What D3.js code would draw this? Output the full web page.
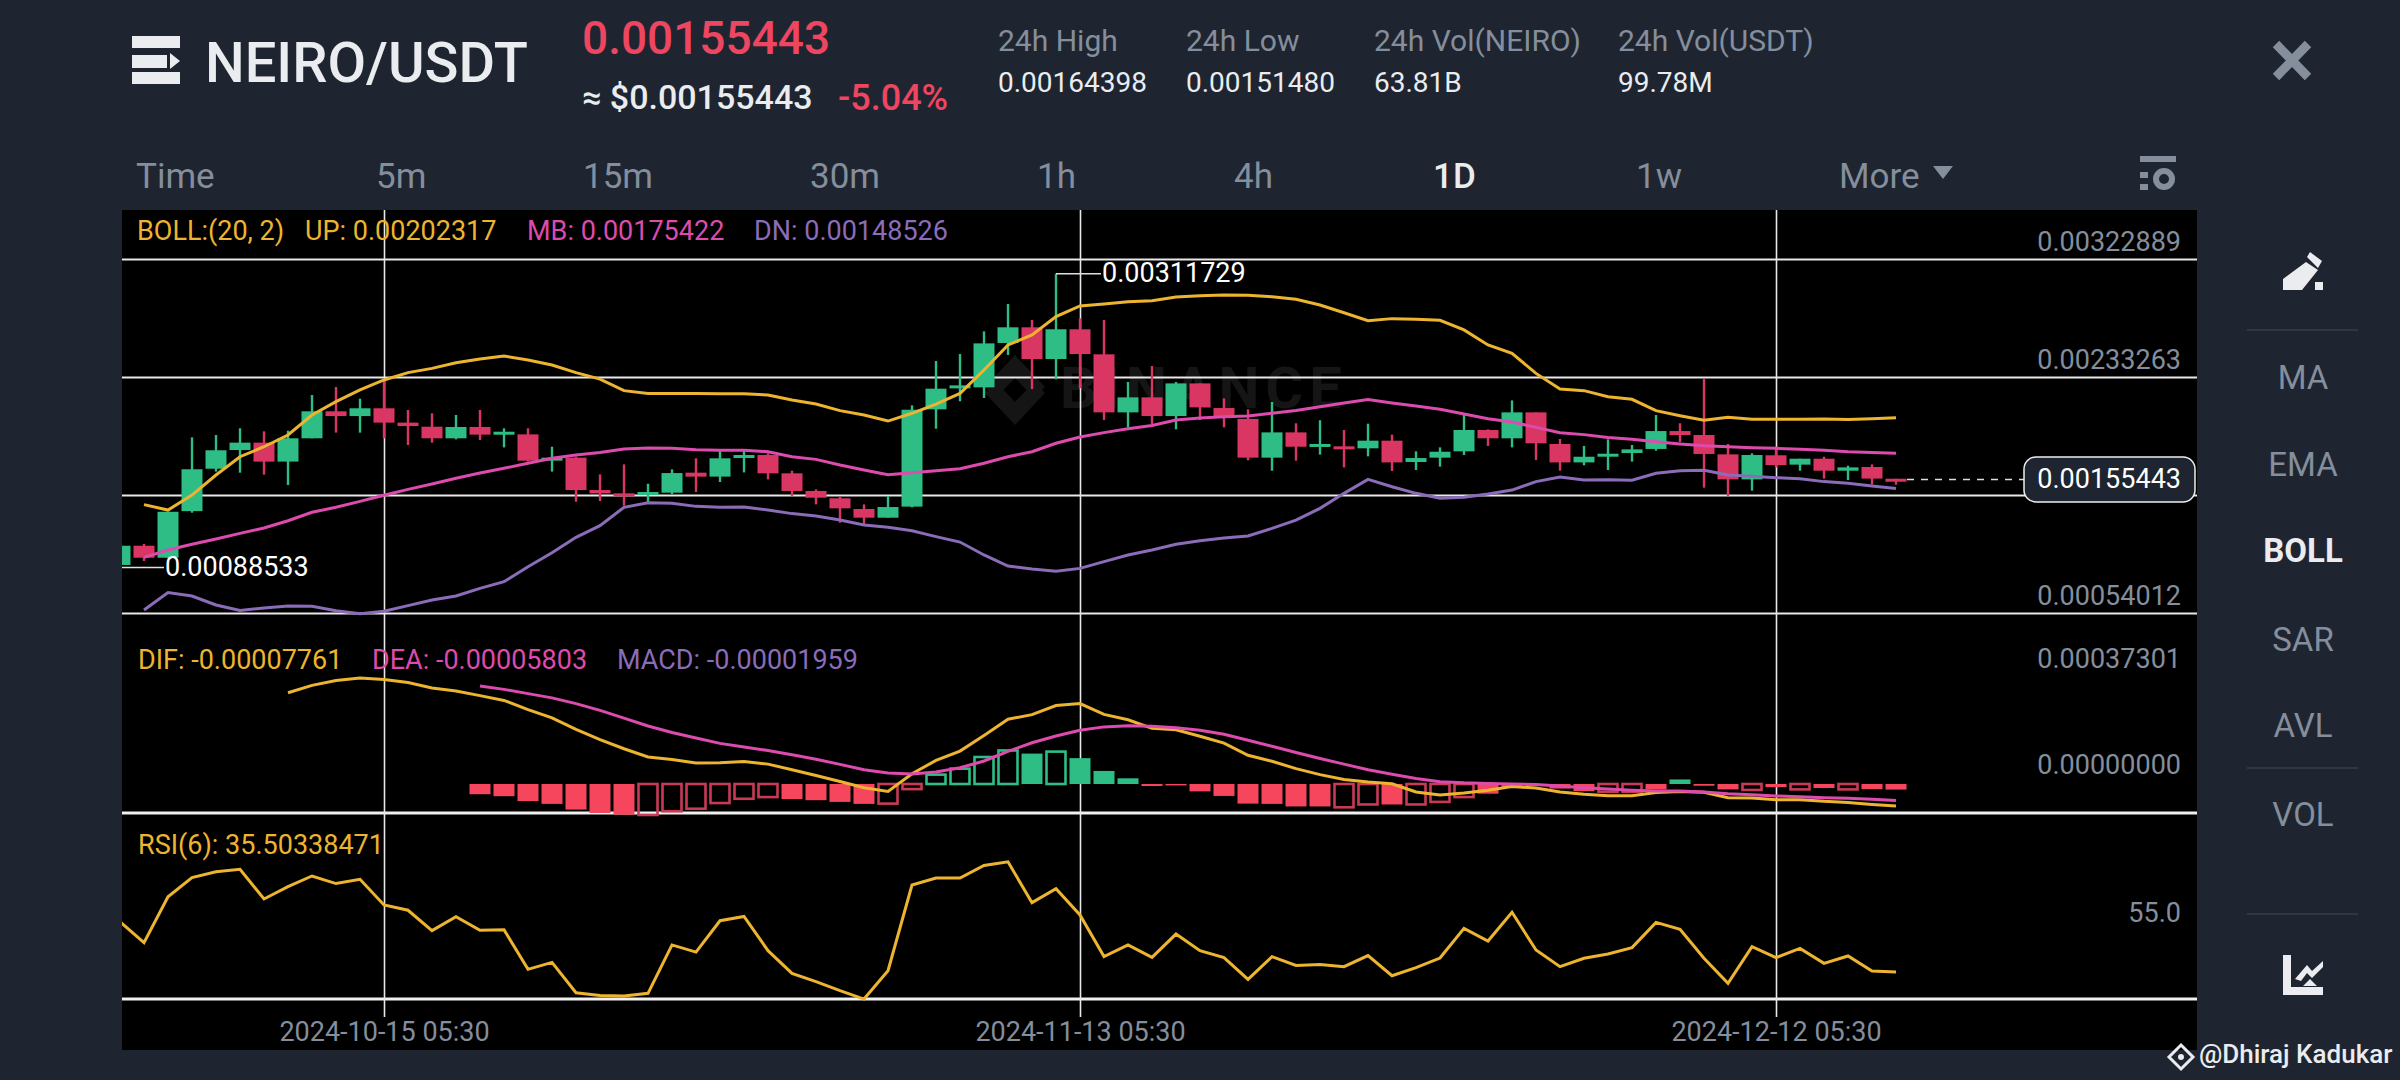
<!DOCTYPE html>
<html>
<head>
<meta charset="utf-8">
<script src="https://cdn.jsdelivr.net/npm/d3@7"></script>
<style>
  html, body { margin: 0; background: #1e2530; }
  text { font-family: Roboto, sans-serif; }
</style>
</head>
<body>
<svg id="chart" width="2400" height="1080"></svg>
<script>
// all prices and MACD values are in units of 0.00001 USDT
const opens = [90.5,105.1,96.0,131.4,163.6,177.8,183.4,169.0,186.7,207.2,
  203.6,209.5,198.6,195.5,186.7,195.3,189.7,189.7,170.0,172.0,
  147.4,144.9,143.9,145.4,160.6,157.6,172.0,174.0,160.1,146.7,
  141.1,133.0,126.4,134.8,208.7,224.9,225.4,259.1,271.0,246.9,
  269.5,250.5,206.4,217.8,203.6,228.4,209.7,201.4,172.0,191.2,
  180.3,180.6,179.1,184.9,168.7,172.0,176.8,193.0,186.7,206.4,
  182.4,168.4,173.0,175.5,178.6,192.2,189.2,174.5,155.5,173.8,
  166.7,171.2,162.1,164.9,156.0];
const closes = [105.1,96.0,130.9,163.2,177.6,183.4,169.0,186.7,207.2,203.6,
  209.5,198.6,196.0,186.7,195.3,189.5,191.7,169.7,172.0,147.4,
  144.9,142.6,145.9,160.3,157.6,171.5,174.0,160.1,146.7,141.6,
  133.5,126.4,134.5,208.4,224.4,226.9,258.8,271.0,246.9,269.5,
  250.7,206.4,217.8,203.6,228.4,210.2,203.6,172.0,191.2,180.3,
  182.4,178.6,184.9,168.4,171.7,176.5,193.0,186.7,206.4,182.9,
  168.4,172.7,175.0,178.3,192.2,189.2,174.8,155.5,174.0,166.4,
  171.2,162.1,164.6,156.1,155.443];
const highs = [105.1,106.4,130.9,187.4,189.2,194.3,192.0,192.5,219.6,225.7,
  216.8,231.0,208.2,205.7,204.4,208.2,194.3,194.3,180.3,172.7,
  159.3,166.9,152.2,163.1,171.5,177.8,178.3,175.3,162.1,147.9,
  142.4,136.5,142.9,211.7,245.4,250.7,267.9,288.7,276.6,311.729,
  277.8,276.6,229.5,241.6,229.5,228.4,217.0,208.7,214.3,198.1,
  200.4,193.0,197.8,189.5,176.8,179.8,204.4,193.5,215.5,206.4,
  186.2,180.9,185.9,181.6,204.4,198.1,231.7,182.4,175.3,180.3,
  171.2,172.7,165.9,166.9,156.0];
const lows = [88.533,93.5,96.0,130.2,161.4,160.6,159.1,151.2,186.7,191.0,
  191.0,186.7,181.6,183.4,185.9,185.4,179.8,169.0,161.4,138.6,
  139.1,135.5,137.8,144.4,145.9,153.5,160.8,155.5,142.9,136.5,
  122.6,121.6,126.4,134.3,194.0,214.8,217.3,250.0,224.1,231.5,
  224.7,200.6,195.0,197.6,193.5,200.6,195.0,170.0,162.1,169.7,
  174.3,164.6,173.0,161.9,162.6,165.2,174.0,180.9,179.8,170.2,
  162.1,166.2,162.6,169.0,177.3,183.9,149.2,142.9,146.9,164.6,
  162.1,156.1,155.0,151.7,151.48];

const bollUp = [null,136.3,132.2,143.6,158.8,172.7,180.3,189.2,204.4,214.5,
  223.4,231.0,236.6,239.8,244.1,246.9,249.2,246.2,242.4,236.6,
  231.7,222.9,220.8,220.8,220.8,220.6,220.6,219.6,215.8,212.7,
  207.7,204.4,199.8,205.7,212.7,220.8,238.6,257.6,265.2,279.1,
  287.2,288.7,290.5,291.2,294.0,295.0,295.5,295.3,294.3,292.3,
  287.9,282.1,276.0,277.6,277.1,276.3,269.0,257.6,251.2,236.0,
  224.1,222.9,218.3,216.3,207.7,203.9,200.4,202.6,201.1,201.1,
  201.1,201.4,200.9,201.6,202.317];
const bollMid = [null,96.3,101.9,106.2,110.2,114.5,118.6,124.1,130.5,134.3,
  138.8,143.4,147.9,152.0,156.3,160.3,163.9,167.7,171.5,174.0,
  176.0,178.6,179.3,179.1,178.1,177.6,177.6,176.5,172.7,170.7,
  166.4,162.6,159.1,160.6,162.1,163.6,167.7,172.7,176.5,182.9,
  187.7,191.0,194.0,196.5,200.6,202.1,203.1,203.6,205.7,207.9,
  210.7,213.5,216.1,213.5,211.2,208.7,205.2,201.6,199.1,195.0,
  191.0,189.5,187.4,185.9,184.1,182.4,181.1,180.3,179.6,179.1,
  178.3,177.6,176.5,176.0,175.422];
const bollDn = [null,56.3,69.5,66.9,60.1,56.0,57.8,59.3,59.1,55.8,
  53.5,55.3,59.6,63.9,66.9,72.7,77.8,89.2,99.8,111.5,
  120.4,134.3,137.8,137.3,135.0,134.3,134.5,132.2,129.5,127.7,
  124.6,120.8,119.1,116.5,112.0,107.9,98.1,89.7,87.4,85.7,
  87.9,93.0,98.1,101.9,106.2,108.9,111.0,112.5,118.3,124.6,
  133.5,144.9,155.5,149.9,144.9,141.1,141.9,144.4,147.4,153.8,
  157.3,155.0,155.3,154.8,160.1,162.1,162.4,158.8,157.8,156.8,
  156.0,153.8,152.5,150.5,148.526];

const dif = [null,null,null,null,null,null,null,32.1,34.7,36.4,
  37.301,36.8,35.7,33.8,32.7,31.1,29.4,26.2,23.3,19.2,
  15.6,12.4,9.5,8.6,7.4,7.5,7.9,7.0,5.0,3.0,
  0.9,-1.3,-2.6,3.6,8.3,11.6,17.1,22.8,24.4,27.6,
  28.3,24.5,22.6,19.6,19.1,16.8,14.4,10.1,8.0,5.4,
  3.3,1.6,0.7,0.1,-2.8,-3.9,-3.2,-2.2,-0.9,-1.4,
  -2.8,-3.6,-4.1,-4.1,-3.0,-2.6,-2.9,-4.8,-4.9,-5.5,
  -5.5,-6.1,-6.5,-7.2,-7.761];
const dea = [null,null,null,null,null,null,null,null,null,null,
  null,null,null,null,null,34.5,33.3,31.8,30.3,28.3,
  25.9,23.2,20.4,18.1,16.2,14.3,13.0,11.8,10.3,8.7,
  6.9,5.0,3.9,3.5,4.2,5.7,8.1,11.5,14.5,16.9,
  18.9,20.1,20.5,20.3,19.8,18.9,17.5,15.4,13.3,11.1,
  9.0,7.0,5.0,3.4,1.9,0.8,0.4,0.2,0,-0.2,
  -0.7,-1.3,-1.8,-2.2,-2.5,-2.5,-2.8,-3.4,-3.8,-4.2,
  -4.5,-4.8,-5.0,-5.4,-5.803];
const macdHist = [null,null,null,null,null,null,null,null,null,null,
  null,null,null,null,null,-3.6,-4.3,-6.0,-7.0,-9.0,
  -10.2,-10.8,-10.9,-9.6,-8.7,-6.7,-5.2,-4.6,-5.3,-5.7,
  -6.3,-7.0,-6.9,-1.8,3.3,5.4,9.5,11.8,10.7,11.4,
  9.1,4.6,2.0,-0.7,-0.5,-2.6,-4.2,-6.9,-7.0,-7.9,
  -7.9,-8.2,-7.2,-7.2,-7.2,-6.3,-4.6,-3.4,-1.3,-0.7,
  -1.6,-2.5,-2.7,-2.7,-1.9,1.6,-0.6,-1.9,-2.1,-1.1,
  -1.9,-1.4,-1.9,-1.8,-1.959];
const hollowBars = [22,23,24,25,26,27,32,33,34,35,36,37,39,51,52,54,55,56,62,63,68,70,72];

const rsi6 = [60.0,49.8,72.2,81.5,84.4,85.6,71.1,77.1,82.3,78.6,
  80.7,68.2,65.6,55.7,62.5,55.8,56.1,36.8,40.2,25.4,
  24.1,23.8,25.1,48.7,45.2,60.5,62.6,45.9,34.8,30.8,
  26.4,22.3,36.1,77.9,81.3,81.3,87.4,89.2,69.3,76.1,
  63.3,43.0,48.7,42.6,54.0,45.9,42.5,31.9,43.0,38.7,
  39.1,38.1,43.5,33.7,37.6,42.3,56.8,50.6,64.6,46.2,
  38.1,42.2,44.3,47.4,59.7,56.3,42.2,30.0,47.9,42.5,
  47.0,39.7,43.3,36.0,35.503];

const priceTicks = [322.889, 233.263, 143.637, 54.012];
const macdTicks = [37.301, 0];
const rsiTicks = [55];
const dateTicks = [11, 40, 69];
const dateLabels = ['2024-10-15 05:30', '2024-11-13 05:30', '2024-12-12 05:30'];
const tabLabels = ['Time', '5m', '15m', '30m', '1h', '4h', '1D', '1w', 'More'];
const indicatorLabels = ['MA', 'EMA', 'BOLL', 'SAR', 'AVL', 'VOL'];

const YELLOW = '#edb52f', PINK = '#dc4bad', PURPLE = '#8a6cb8';
const GREEN = '#2ebd85', RED = '#da3663', BAR_RED = '#f6465d', HOLLOW_RED = '#c93a55';
const GREY = '#848e9c', PANEL = '#1e2530', WHITE = '#eaecef';

const chart = { left: 122, right: 2197, top: 210, bottom: 1050 };
const svg = d3.select('#chart');
const fmt = d => (d * 1e-5).toFixed(8);

const x = d3.scaleLinear().domain([0, 74]).range([120, 1896]);
const yPrice = d3.scaleLinear().domain([54.012, 322.889]).range([613, 259]);
const yMacd = d3.scaleLinear().domain([0, 37.301]).range([784, 678]);
const yRsi = d3.scaleLinear().domain([35.503, 55]).range([972, 932]);

svg.append('rect').attr('width', 2400).attr('height', 1080).attr('fill', PANEL);
svg.append('rect')
  .attr('x', chart.left).attr('y', chart.top)
  .attr('width', chart.right - chart.left).attr('height', chart.bottom - chart.top)
  .attr('fill', '#000');
svg.append('clipPath').attr('id', 'plot').append('rect')
  .attr('x', chart.left).attr('y', chart.top)
  .attr('width', chart.right - chart.left).attr('height', chart.bottom - chart.top);

// small helper for plain text, the 2.5 brings roboto's middle onto the reference's
function label(str, px, py, opts = {}) {
  return svg.append('text')
    .attr('x', px).attr('y', py + 2.5)
    .attr('dominant-baseline', 'middle')
    .attr('text-anchor', opts.anchor || 'start')
    .attr('font-size', opts.size || 27)
    .attr('font-weight', opts.weight || 400)
    .attr('fill', opts.fill || GREY)
    .text(str);
}

/* ---------- header ---------- */
const icon = svg.append('g').attr('fill', WHITE);
icon.append('path').attr('d', 'M132 36h48v12h-48zM132 55h35v13h-35zM132 72h48v12h-48zM170 53l10 8-10 8z');
label('NEIRO/USDT', 205, 65, { size: 56, weight: 500, fill: WHITE });
label('0.00155443', 582, 39, { size: 46, weight: 500, fill: '#ee4560' });
label('≈ $0.00155443', 582, 98, { size: 34, weight: 500, fill: WHITE });
label('-5.04%', 838, 98, { size: 36, weight: 500, fill: '#ee4560' });

const statNames = ['24h High', '24h Low', '24h Vol(NEIRO)', '24h Vol(USDT)'];
const statValues = ['0.00164398', '0.00151480', '63.81B', '99.78M'];
const statX = [998, 1186, 1374, 1618];
statNames.forEach((s, i) => {
  label(s, statX[i], 41, { size: 30 });
  label(statValues[i], statX[i], 82, { size: 28, fill: WHITE });
});
svg.append('path')
  .attr('d', 'M2276 44L2308 77M2308 44L2276 77')
  .attr('stroke', GREY).attr('stroke-width', 9).attr('fill', 'none');

const tabX = [136, 376, 583, 810, 1037, 1234, 1433, 1636, 1839];
tabLabels.forEach((t, i) => {
  const on = t === '1D';
  label(t, tabX[i], 176, { size: 35, weight: on ? 500 : 400, fill: on ? WHITE : GREY });
});
svg.append('path').attr('d', 'M1933 166h20l-10 13z').attr('fill', GREY);
svg.append('path').attr('fill', GREY)
  .attr('d', 'M2140 156h36v6h-36zM2140 172h8v6h-8zM2140 184h8v6h-8z');
svg.append('circle').attr('cx', 2164).attr('cy', 179).attr('r', 8)
  .attr('fill', 'none').attr('stroke', GREY).attr('stroke-width', 6);

/* ---------- faint exchange mark ---------- */
const mark = svg.append('g').attr('fill', '#151515');
mark.append('path').attr('d', 'M1015 355l30 32-11 11-19-20-19 20-11-11zM1015 425l-30-32 11-11 19 20 19-20 11 11z');
mark.append('text').attr('x', 1060).attr('y', 408)
  .attr('font-size', 58).attr('font-weight', 700).attr('letter-spacing', 6).text('BINANCE');

/* ---------- axes and grid ---------- */
function valueAxis(scale, ticks, gridWidth, textOffset, strokeWidth) {
  const g = svg.append('g')
    .attr('transform', `translate(${chart.right},0)`)
    .call(d3.axisRight(scale).tickValues(ticks).tickSize(-gridWidth).tickFormat(fmt));
  g.select('.domain').remove();
  g.selectAll('line').attr('stroke', '#e8e8e8').attr('stroke-width', strokeWidth);
  g.selectAll('text')
    .attr('x', -16).attr('y', textOffset).attr('dy', null)
    .attr('dominant-baseline', 'middle')
    .attr('text-anchor', 'end')
    .attr('font-family', 'Roboto, sans-serif')
    .attr('font-size', 27)
    .attr('fill', GREY);
  return g;
}

valueAxis(yPrice, priceTicks, chart.right - chart.left, -16, 1.8)
  .selectAll('.tick').filter(d => d === 143.637).select('text').remove();
valueAxis(yMacd, macdTicks, 0, -18, 0);
valueAxis(yRsi, rsiTicks, 0, -18, 0).selectAll('text').text(d => d.toFixed(1));

// heavy panel separators
[813, 999].forEach(py => {
  svg.append('line').attr('x1', chart.left).attr('x2', chart.right)
    .attr('y1', py).attr('y2', py).attr('stroke', '#f0f0f0').attr('stroke-width', 3);
});

const xAxis = svg.append('g')
  .attr('transform', 'translate(0,1017)')
  .call(d3.axisBottom(x).tickValues(dateTicks).tickSize(-(1017 - chart.top)).tickFormat((d, i) => dateLabels[i]));
xAxis.select('.domain').remove();
xAxis.selectAll('line').attr('stroke', '#e8e8e8').attr('stroke-width', 1.6);
xAxis.selectAll('text')
  .attr('y', 17).attr('dy', null)
  .attr('dominant-baseline', 'middle')
  .attr('font-family', 'Roboto, sans-serif')
  .attr('font-size', 27)
  .attr('fill', GREY);

/* ---------- candles ---------- */
const plot = svg.append('g').attr('clip-path', 'url(#plot)');
const idx = d3.range(opens.length);
const candleWidth = 21;
const candleColor = i => (closes[i] >= opens[i] ? GREEN : RED);

plot.append('g').selectAll('line').data(idx).join('line')
  .attr('x1', i => x(i)).attr('x2', i => x(i))
  .attr('y1', i => yPrice(highs[i])).attr('y2', i => yPrice(lows[i]))
  .attr('stroke', candleColor).attr('stroke-width', 2.4);

plot.append('g').selectAll('rect').data(idx).join('rect')
  .attr('x', i => x(i) - candleWidth / 2)
  .attr('width', candleWidth)
  .attr('y', i => yPrice(Math.max(opens[i], closes[i])))
  .attr('height', i => Math.max(3, Math.abs(yPrice(opens[i]) - yPrice(closes[i]))))
  .attr('fill', candleColor);

/* ---------- MACD bars ---------- */
const barIdx = idx.filter(i => macdHist[i] !== null);
const isHollow = i => hollowBars.includes(i);
const barColor = i => (macdHist[i] >= 0 ? GREEN : (isHollow(i) ? HOLLOW_RED : BAR_RED));
plot.append('g').selectAll('rect').data(barIdx).join('rect')
  .attr('x', i => x(i) - candleWidth / 2 + (isHollow(i) ? 1 : 0))
  .attr('width', i => candleWidth - (isHollow(i) ? 2 : 0))
  .attr('y', i => Math.min(yMacd(0), yMacd(macdHist[i])))
  .attr('height', i => Math.abs(yMacd(macdHist[i]) - yMacd(0)))
  .attr('fill', i => (isHollow(i) ? 'none' : barColor(i)))
  .attr('stroke', i => (isHollow(i) ? barColor(i) : 'none'))
  .attr('stroke-width', 2.6);

/* ---------- indicator lines ---------- */
function drawLine(values, scale, color) {
  const line = d3.line().defined(d => d !== null).x((d, i) => x(i)).y(d => scale(d));
  plot.append('path').attr('d', line(values))
    .attr('fill', 'none').attr('stroke', color).attr('stroke-width', 3);
}
drawLine(bollUp, yPrice, YELLOW);
drawLine(bollMid, yPrice, PINK);
drawLine(bollDn, yPrice, PURPLE);
drawLine(dif, yMacd, YELLOW);
drawLine(dea, yMacd, PINK);
drawLine(rsi6, yRsi, YELLOW);

/* ---------- legends ---------- */
label('BOLL:(20, 2)', 137, 230, { fill: YELLOW });
label('UP: 0.00202317', 305, 230, { fill: YELLOW });
label('MB: 0.00175422', 527, 230, { fill: PINK });
label('DN: 0.00148526', 754, 230, { fill: PURPLE });
label('DIF: -0.00007761', 138, 659, { fill: YELLOW });
label('DEA: -0.00005803', 372, 659, { fill: PINK });
label('MACD: -0.00001959', 617, 659, { fill: PURPLE });
label('RSI(6): 35.50338471', 138, 844, { fill: YELLOW });

/* ---------- high, low and last price tags ---------- */
const leader = (x1, x2, py) => svg.append('line')
  .attr('x1', x1).attr('x2', x2).attr('y1', py).attr('y2', py)
  .attr('stroke', '#e0e0e0').attr('stroke-width', 1.5);
leader(x(39), 1101, yPrice(311.729));
label('0.00311729', 1102, yPrice(311.729) - 1, { fill: '#fff' });
leader(chart.left, 164, yPrice(88.533));
label('0.00088533', 165, yPrice(88.533) - 1, { fill: '#fff' });

svg.append('line')
  .attr('x1', x(74) + 11).attr('x2', 2024)
  .attr('y1', yPrice(155.443)).attr('y2', yPrice(155.443))
  .attr('stroke', '#ddd').attr('stroke-width', 1.5).attr('stroke-dasharray', '7 7');
svg.append('rect')
  .attr('x', 2024).attr('y', yPrice(155.443) - 22.5).attr('width', 171).attr('height', 45).attr('rx', 12)
  .attr('fill', PANEL).attr('stroke', '#eee').attr('stroke-width', 1.5);
label('0.00155443', 2181, yPrice(155.443) - 1, { fill: '#fff', anchor: 'end' });

/* ---------- right toolbar ---------- */
[330, 768, 914].forEach(py => {
  svg.append('line').attr('x1', 2247).attr('x2', 2358).attr('y1', py).attr('y2', py)
    .attr('stroke', '#2f3744').attr('stroke-width', 2);
});
const indicatorY = [378, 465, 551, 640, 726, 815];
indicatorLabels.forEach((t, i) => {
  const on = t === 'BOLL';
  label(t, 2303, indicatorY[i], { size: 33, anchor: 'middle', weight: on ? 700 : 400, fill: on ? WHITE : GREY });
});
svg.append('path').attr('fill', WHITE)
  .attr('d', 'M2283 290v-11l23-17 12 8-16 20zM2310 252l12 9-4 7-11-11zM2315 282h8v8h-8z');
svg.append('path').attr('fill', WHITE)
  .attr('d', 'M2283 955h8v32h32v8h-40zM2295 979l12-14 5 6 11-10v6l-11 11-5-5-6 8zM2303 986l7-7 7 7z');

/* ---------- signature ---------- */
svg.append('path').attr('fill', 'none').attr('stroke', WHITE).attr('stroke-width', 3)
  .attr('d', 'M2181 1045l12 12-12 12-12-12z');
svg.append('circle').attr('cx', 2181).attr('cy', 1057).attr('r', 3).attr('fill', WHITE);
label('@Dhiraj Kadukar', 2199, 1054, { size: 26, weight: 500, fill: WHITE });
</script>
</body>
</html>
